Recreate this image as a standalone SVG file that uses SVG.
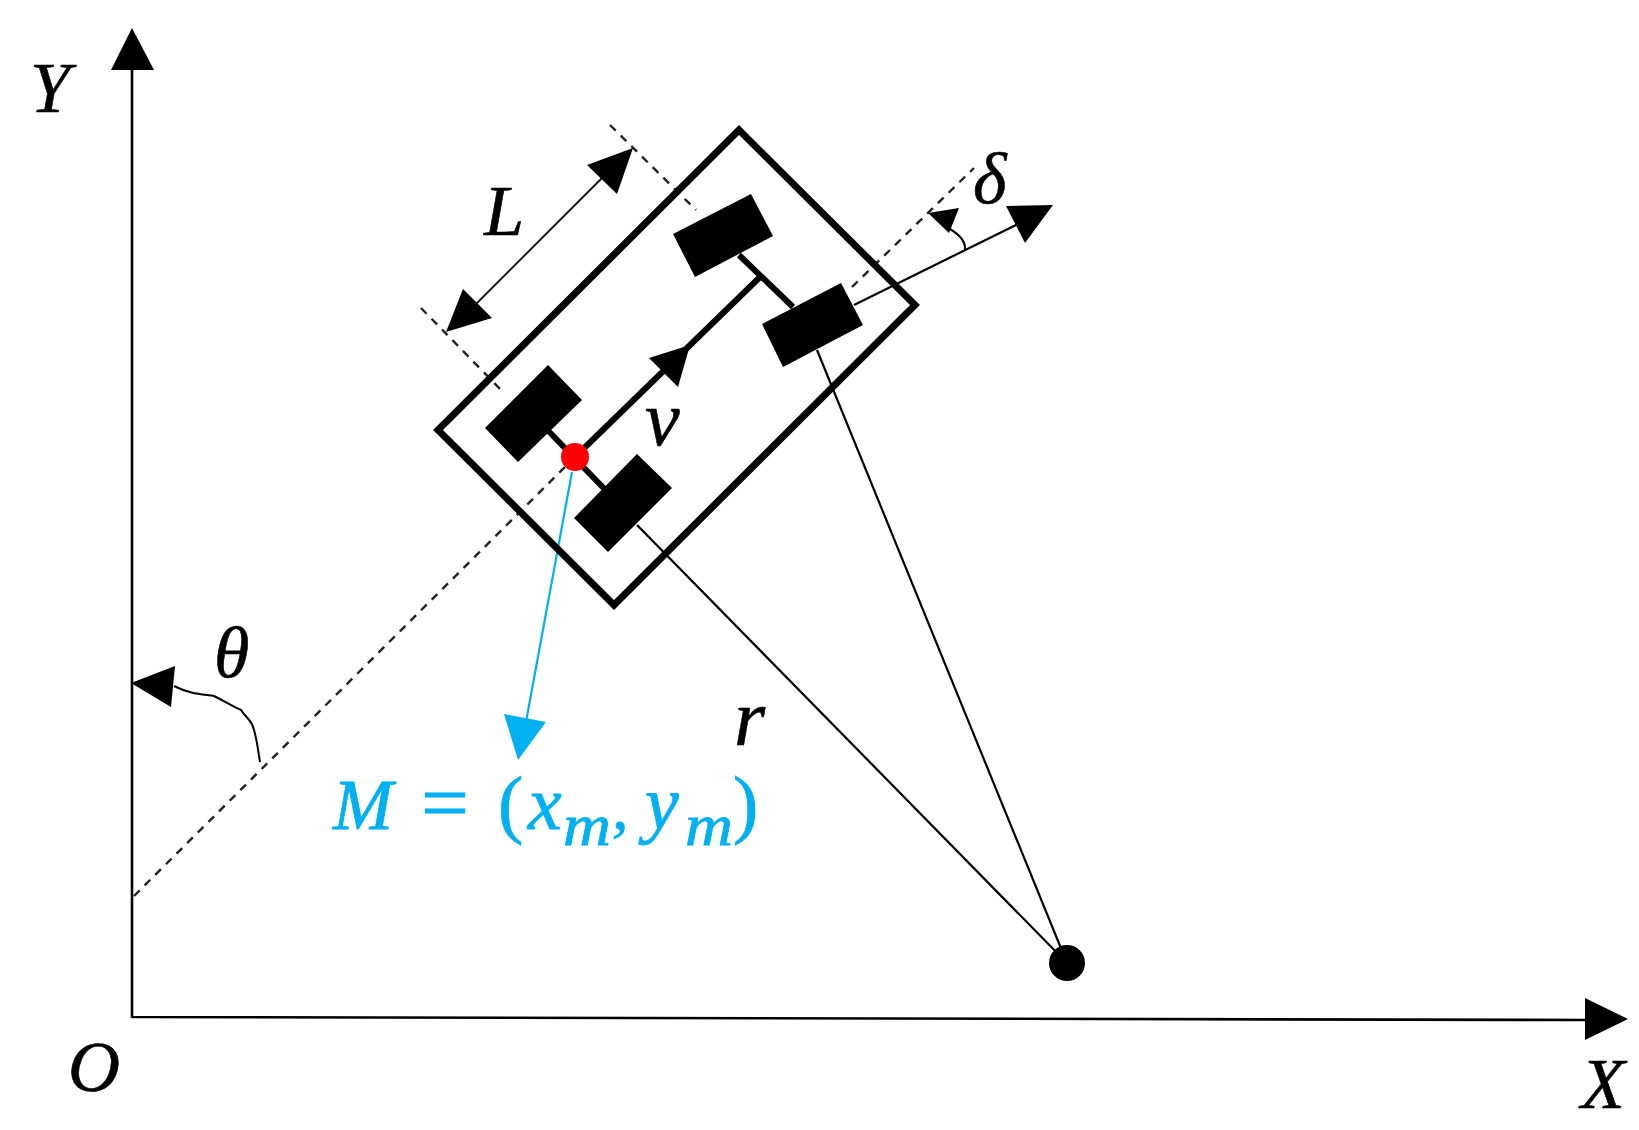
<svg xmlns="http://www.w3.org/2000/svg" width="1639" height="1130" viewBox="0 0 1639 1130">
<style>
.t{font-family:"Liberation Serif","DejaVu Serif",serif;font-style:italic;font-size:72px;fill:#000;stroke:#000;stroke-width:.6}
.b{font-family:"Liberation Serif","DejaVu Serif",serif;font-style:italic;fill:#00B0F0;stroke:#00B0F0;stroke-width:.8}
.n{font-style:normal}
.l{fill:none;stroke:#000}
.d{fill:none;stroke:#222;stroke-width:2.4;stroke-dasharray:8 7}
.w{fill:#000}
</style>
<rect width="1639" height="1130" fill="#fff"/>
<g id="connectors">
<path class="l" stroke-width="2.6" d="M132 1018V60M132 1017L1590 1020"/>
<polygon class="w" points="132,28 111,70 154,70"/>
<polygon class="w" points="1628,1019 1585,998 1585,1040"/>
<path class="d" d="M134 896L575 457M852 287L974 168M610 125L696 210M421 308L504 393"/>
<path class="l" stroke-width="2" d="M174 686C190 694 200 694 214 696C226 702 232 706 241 710C246 718 252 720 254 730C257 740 258 750 260 762"/>
<polygon class="w" points="131,683 175,666 171,707"/>
<path class="l" stroke-width="1.8" stroke="#333" d="M475 305L610 170"/>
<polygon class="w" points="633,148 587,165 617,194"/>
<polygon class="w" points="446,332 463,289 492,318"/>
<path class="l" stroke-width="2.2" d="M854 305L1022 222M817 350L1067 963M637 525L1067 963"/>
<polygon class="w" points="1053,205 1006,206 1025,243"/>
<path class="l" stroke-width="2" d="M943 225C958 233 966 240 965 250"/>
<polygon class="w" points="959,208 928,213 949,233"/>
<path fill="none" stroke="#00B0F0" stroke-width="2.2" d="M572 472L526 722"/>
<polygon fill="#00B0F0" points="504,714 546,722 518,760"/>
<path class="l" stroke-width="6" d="M575 457L759 278M530 412L620 505M739 255L793 307"/>
<polygon class="w" points="690,345 649,358 678,387"/>
</g>
<g id="body"><polygon class="l" stroke-width="7" points="739,130 915,305 614,605 438,430"/></g>
<g id="wheel-front-left"><polygon class="w" points="751,194 773,236 695,277 673,234"/></g>
<g id="wheel-front-right"><polygon class="w" points="841,283 863,325 783,367 762,324"/></g>
<g id="wheel-rear-left"><polygon class="w" points="548,365 582,400 518,462 485,428"/></g>
<g id="wheel-rear-right"><polygon class="w" points="637,454 672,488 608,552 574,518"/></g>
<g id="point-m"><circle cx="575" cy="457" r="14" fill="#f00"/></g>
<g id="center"><circle cx="1067" cy="963" r="18" fill="#000"/></g>
<g id="labels">
<text class="t" x="30" y="112">Y</text>
<text class="t" x="484" y="235">L</text>
<text class="t" x="645" y="445" style="font-size:78px">v</text>
<text class="t" x="973" y="203">δ</text>
<text class="t" x="214" y="677">θ</text>
<text class="t" x="734" y="745" style="font-size:80px">r</text>
<text class="t" x="68" y="1091">O</text>
<text class="t" x="1581" y="1108">X</text>
<text class="b" x="333" y="829" font-size="72">M</text>
<text class="b n" x="421" y="830" font-size="80" textLength="48" lengthAdjust="spacingAndGlyphs">=</text>
<text class="b n" x="498" y="829" font-size="76">(</text>
<text class="b" x="528" y="829" font-size="76">x</text>
<text class="b" x="563" y="845" font-size="60" textLength="48" lengthAdjust="spacingAndGlyphs">m</text>
<text class="b" x="612" y="829" font-size="66">,</text>
<text class="b" x="645" y="829" font-size="76">y</text>
<text class="b" x="685" y="845" font-size="60" textLength="48" lengthAdjust="spacingAndGlyphs">m</text>
<text class="b n" x="733" y="829" font-size="76">)</text>
</g>
</svg>
